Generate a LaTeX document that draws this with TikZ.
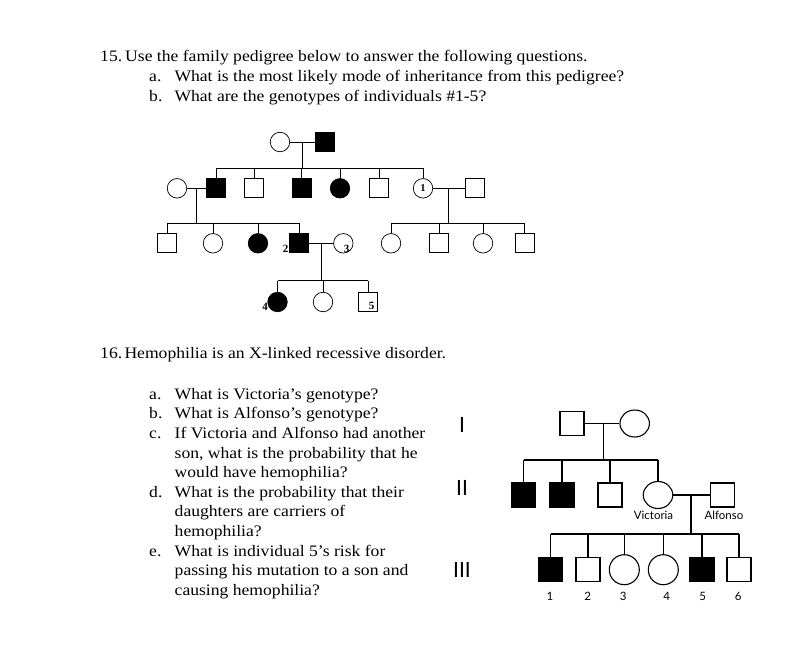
\documentclass[tikz,border=0pt]{standalone}
\usepackage{fontspec}
\setmainfont{Liberation Serif}[FakeStretch=1.1]
\newfontfamily\gill{Lato}
\newfontfamily\timesb{Liberation Serif}
\usetikzlibrary{shapes.geometric}
\begin{document}
\begin{tikzpicture}[x=1pt,y=-1pt,
  body/.style={anchor=base west, inner sep=0pt, font=\fontsize{16}{19.6}\selectfont},
  sqA/.style={draw, rectangle, minimum size=19pt, inner sep=0pt, line width=0.7pt},
  ciA/.style={draw, circle, minimum size=19.5pt, inner sep=0pt, line width=0.7pt},
  aff/.style={fill=black},
  lnA/.style={line width=0.7pt},
  numA/.style={inner sep=0pt, font=\timesb\fontsize{11}{11}\selectfont\bfseries},
  sqB/.style={draw, rectangle, minimum size=24pt, inner sep=0pt, line width=1.1pt},
  ciB/.style={draw, ellipse, minimum width=29.5pt, minimum height=27pt, inner sep=0pt, line width=1.1pt},
  ciC/.style={draw, ellipse, minimum width=30pt, minimum height=30pt, inner sep=0pt, line width=1.1pt},
  lnB/.style={line width=1.5pt},
  lblB/.style={anchor=base, inner sep=0pt, font=\gill\fontsize{11.5}{11.5}\selectfont},
  genB/.style={inner sep=0pt, font=\gill\fontsize{21}{21}\selectfont}
]
\useasboundingbox (0,0) rectangle (794,647);

% ---------- Question 15 ----------
\node[body] (q15n) at (100,61.3) {15.};
\node[body] (q15t) at (125,61.3) {Use the family pedigree below to answer the following questions.};
\node[body] (q15a) at (149,81.3) {a.};
\node[body] (q15at) at (174.3,81.3) {What is the most likely mode of inheritance from this pedigree?};
\node[body] (q15b) at (149,101.3) {b.};
\node[body] (q15bt) at (174.3,101.3) {What are the genotypes of individuals \#1-5?};

% ---------- Pedigree 1 ----------
\node[ciA] (i1) at (280,142) {};
\node[sqA,aff] (i2) at (324.5,142) {};
\draw[lnA] (i1) -- (i2);
\coordinate (m1) at (302.25,142);
\coordinate (s1) at (302.25,168);
\draw[lnA] (m1) -- (s1);

\node[ciA] (a) at (177,188.3) {};
\node[sqA,aff] (b) at (216,188.3) {};
\node[sqA] (c) at (254,188.3) {};
\node[sqA,aff] (d) at (301.5,188.3) {};
\node[ciA,aff] (e) at (340,188.3) {};
\node[sqA] (f) at (379,188.3) {};
\node[ciA, font=\timesb\fontsize{10.5}{10.5}\selectfont\bfseries] (g) at (423,188.3) {1};
\node[sqA] (h) at (474.5,188.3) {};
\draw[lnA] (b.north |- s1) -- (g.north |- s1);
\foreach \n in {b,c,d,e,f,g} \draw[lnA] (\n.north) -- (\n.north |- s1);
\draw[lnA] (a) -- (b);
\draw[lnA] (g) -- (h);
\coordinate (m2) at (196.5,188.3);
\coordinate (s2) at (196.5,223.3);
\coordinate (m3) at (448.75,188.3);
\coordinate (s3) at (448.75,223.3);
\draw[lnA] (m2) -- (s2);
\draw[lnA] (m3) -- (s3);

\node[sqA] (j) at (167,243.3) {};
\node[ciA] (k) at (213,243.3) {};
\node[ciA,aff] (l) at (258,243.3) {};
\node[sqA,aff] (m) at (299,243.3) {};
\node[ciA] (n) at (343.3,243.3) {};
\node[ciA] (o) at (391,243.3) {};
\node[sqA] (p) at (439,243.3) {};
\node[ciA] (q) at (483,243.3) {};
\node[sqA] (r) at (524.5,243.3) {};
\draw[lnA] (j.north |- s2) -- (m.north |- s2);
\foreach \n in {j,k,l,m} \draw[lnA] (\n.north) -- (\n.north |- s2);
\draw[lnA] (o.north |- s3) -- (r.north |- s3);
\foreach \n in {o,p,q,r} \draw[lnA] (\n.north) -- (\n.north |- s3);
\draw[lnA] (m) -- (n);
\coordinate (m4) at (321.2,243.3);
\coordinate (s4) at (321.2,280.7);
\draw[lnA] (m4) -- (s4);

\node[ciA,aff] (s) at (277.5,302) {};
\node[ciA] (t) at (323,302) {};
\node[sqA] (u) at (368,302) {};
\draw[lnA] (s.north |- s4) -- (u.north |- s4);
\foreach \n in {s,t,u} \draw[lnA] (\n.north) -- (\n.north |- s4);

\node[numA, anchor=base east] (l2) at (288.5,252.7) {2};
\node[numA, anchor=base] (l3) at (346.7,252.7) {3};
\node[numA, anchor=base east] (l4) at (268,310) {4};
\node[numA, anchor=base] (l5) at (371.5,309.3) {5};

% ---------- Question 16 ----------
\node[body] (q16n) at (100,358.3) {16.};
\node[body] (q16t) at (124.3,358.3) {Hemophilia is an X-linked recessive disorder.};
\foreach \k/\lab/\txt in {
  0/a./{What is Victoria’s genotype?},
  1/b./{What is Alfonso’s genotype?},
  2/c./{If Victoria and Alfonso had another},
  3//{son, what is the probability that he},
  4//{would have hemophilia?},
  5/d./{What is the probability that their},
  6//{daughters are carriers of},
  7//{hemophilia?},
  8/e./{What is individual 5’s risk for},
  9//{passing his mutation to a son and},
  10//{causing hemophilia?}}{
  \node[body] (ql\k) at (149,399.3+19.6*\k) {\lab};
  \node[body] (qt\k) at (174.5,399.3+19.6*\k) {\txt};
}

% ---------- Pedigree 2 ----------
\node[genB] (g1) at (462,424.7) {I};
\node[genB] (g2) at (462,488) {II};
\node[genB] (g3) at (462,569.7) {III};

\node[sqB] (p1) at (572,423.5) {};
\node[ciB] (p2) at (634.7,423.5) {};
\draw[lnB] (p1) -- (p2);
\coordinate (m5) at (603.3,423.5);
\coordinate (s5) at (603.3,460);
\draw[lnB] (m5) -- (s5);

\node[sqB,aff] (c1) at (523.7,495) {};
\node[sqB,aff] (c2) at (562,495) {};
\node[sqB] (c3) at (610,495) {};
\node[ciB] (vic) at (658,495) {};
\node[sqB] (alf) at (722.5,495) {};
\draw[lnB] (c1.north |- s5) -- (vic.north |- s5);
\foreach \n in {c1,c2,c3,vic} \draw[lnB] (\n.north) -- (\n.north |- s5);
\draw[lnB] (vic) -- (alf);
\coordinate (m6) at (691,495);
\coordinate (s6) at (691,534);
\draw[lnB] (m6) -- (s6);
\node[lblB] (vicl) at (653.5,519.3) {Victoria};
\node[lblB] (alfl) at (724,519.3) {Alfonso};

\node[sqB,aff] (d1) at (550.5,569.7) {};
\node[sqB] (d2) at (588,569.7) {};
\node[ciC] (d3) at (624.3,569.7) {};
\node[ciC] (d4) at (663.3,569.7) {};
\node[sqB,aff] (d5) at (702,569.7) {};
\node[sqB] (d6) at (739,569.7) {};
\draw[lnB] (d1.north |- s6) -- (d6.north |- s6);
\foreach \n in {d1,d2,d3,d4,d5,d6} \draw[lnB] (\n.north) -- (\n.north |- s6);

\node[lblB] (n1) at (550,600) {1};
\node[lblB] (n2) at (587.7,600) {2};
\node[lblB] (n3) at (623.3,600) {3};
\node[lblB] (n4) at (666.7,600) {4};
\node[lblB] (n5) at (702.7,600) {5};
\node[lblB] (n6) at (738.3,600) {6};
\end{tikzpicture}
\end{document}
